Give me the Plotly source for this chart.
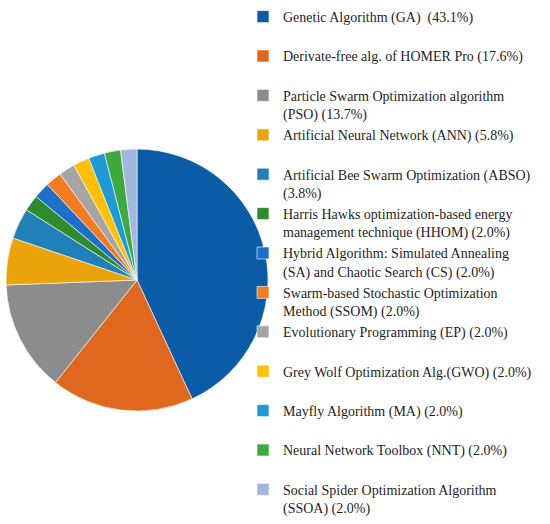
import plotly.graph_objects as go

# Share of optimization methods (percent)
labels = [
    'Genetic Algorithm (GA)  (43.1%)',
    'Derivate-free alg. of HOMER Pro (17.6%)',
    'Particle Swarm Optimization algorithm<br>(PSO) (13.7%)',
    'Artificial Neural Network (ANN) (5.8%)',
    'Artificial Bee Swarm Optimization (ABSO)<br>(3.8%)',
    'Harris Hawks optimization-based energy<br>management technique (HHOM) (2.0%)',
    'Hybrid Algorithm: Simulated Annealing<br>(SA) and Chaotic Search (CS) (2.0%)',
    'Swarm-based Stochastic Optimization<br>Method (SSOM) (2.0%)',
    'Evolutionary Programming (EP) (2.0%)',
    'Grey Wolf Optimization Alg.(GWO) (2.0%)',
    'Mayfly Algorithm (MA) (2.0%)',
    'Neural Network Toolbox (NNT) (2.0%)',
    'Social Spider Optimization Algorithm<br>(SSOA) (2.0%)',
]
values = [43.1, 17.6, 13.7, 5.8, 3.8, 2.0, 2.0, 2.0, 2.0, 2.0, 2.0, 2.0, 2.0]
colors = ['#0B5CA6', '#DF671E', '#8C8C8C', '#EBA40B', '#2280B8', '#2E8B2E', '#1E6FCC',
          '#F47B20', '#A5A5A5', '#FFC000', '#1E9BD7', '#3CAA3C', '#A3B6DD']

# pad one-line entries so every legend slot has the same height
legend_labels = [l if '<br>' in l else l + '<br> ' for l in labels]

fig = go.Figure()
fig.add_trace(go.Pie(
    labels=legend_labels,
    values=values,
    marker=dict(colors=colors, line=dict(color='white', width=0.6)),
    sort=False,
    direction='clockwise',
    rotation=0,
    textinfo='none',
    hoverinfo='label+percent',
    domain=dict(x=[0.0109, 0.4873], y=[0.2156, 0.7156]),
))

fig.update_layout(
    width=550,
    height=524,
    margin=dict(l=0, r=0, t=0, b=0),
    paper_bgcolor='white',
    font=dict(family="'Liberation Serif', 'Times New Roman', serif", size=14, color='#1e1e1e'),
    legend=dict(x=0.4418, y=0.996, xanchor='left', yanchor='top', valign='top',
                bgcolor='rgba(0,0,0,0)', tracegroupgap=0),
)

# drop the default page margin so the figure sits at the window corner
fig.write_html('out.html', config={'displayModeBar': False},
               post_script="document.body.style.margin='0';")
